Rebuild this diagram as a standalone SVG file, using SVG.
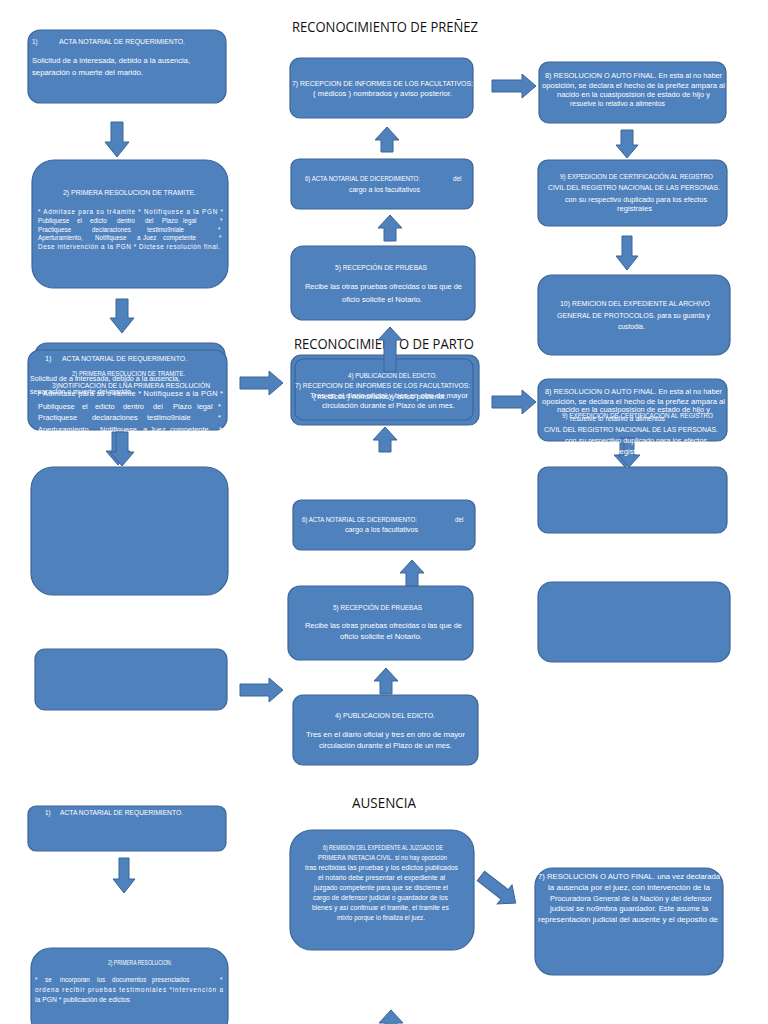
<svg xmlns="http://www.w3.org/2000/svg" width="768" height="1024" viewBox="0 0 768 1024">
<style>
.box{fill:#4F81BD;stroke:#3B6596;stroke-width:1.2}
.arr{fill:#4F81BD;stroke:#3B6596;stroke-width:1}
.t{font-family:"Liberation Sans",Arial,sans-serif;font-size:6.3px;fill:#fff}
.t2{font-family:"Liberation Sans",Arial,sans-serif;font-size:7.4px;fill:#fff}
.ttl{font-family:"Open Sans","Liberation Sans",Arial,sans-serif;font-size:14px;fill:#111}
</style>
<rect width="768" height="1024" fill="#fff"/>

<!-- Titles -->
<text class="ttl" x="292" y="32" textLength="186" lengthAdjust="spacingAndGlyphs">RECONOCIMIENTO DE PREÑEZ</text>
<text class="ttl" x="294" y="349" textLength="180" lengthAdjust="spacingAndGlyphs">RECONOCIMIENTO DE PARTO</text>
<text class="ttl" x="352" y="808" textLength="64" lengthAdjust="spacingAndGlyphs">AUSENCIA</text>

<!-- PREÑEZ -->
<g id="p1">
<rect class="box" x="28" y="30" width="198" height="73" rx="12"/>
<text class="t" x="32" y="44">1)</text>
<text class="t" x="59" y="44" textLength="126" lengthAdjust="spacingAndGlyphs">ACTA NOTARIAL DE REQUERIMIENTO.</text>
<text class="t" x="32" y="63" textLength="158" lengthAdjust="spacingAndGlyphs">Solicitud de a interesada, debido a la ausencia,</text>
<text class="t" x="32" y="75" textLength="111" lengthAdjust="spacingAndGlyphs">separación o muerte del marido.</text>
</g>
<g id="p2">
<rect class="box" x="32" y="160" width="196" height="128" rx="22"/>
<text class="t" x="63" y="194.5" textLength="133" lengthAdjust="spacingAndGlyphs">2) PRIMERA RESOLUCION DE TRAMITE.</text>
<text class="t" x="38" y="214" textLength="185" lengthAdjust="spacing">* Admitase para su tr4amite  * Notifiquese a la PGN  *</text>
<text class="t" y="223"><tspan x="38">Publiquese</tspan><tspan x="77">el</tspan><tspan x="90">edicto</tspan><tspan x="117">dentro</tspan><tspan x="145">del</tspan><tspan x="162">Plazo</tspan><tspan x="183">legal</tspan><tspan x="220">*</tspan></text>
<text class="t" y="231.5"><tspan x="38">Practiquese</tspan><tspan x="92">declaraciones</tspan><tspan x="147">testimo9niale</tspan><tspan x="218">*</tspan></text>
<text class="t" y="240"><tspan x="38">Aperturamiento,</tspan><tspan x="95">Notifiquese</tspan><tspan x="137">a</tspan><tspan x="143">Juez</tspan><tspan x="163">competente</tspan><tspan x="219">*</tspan></text>
<text class="t" x="38" y="249" textLength="182" lengthAdjust="spacing">Dese intervención a la PGN  * Dictese resolución final.</text>
</g>
<g id="p7">
<rect class="box" x="290" y="58" width="183" height="60" rx="10"/>
<text class="t" x="292" y="86" textLength="181" lengthAdjust="spacingAndGlyphs">7) RECEPCION DE INFORMES DE LOS FACULTATIVOS:</text>
<text class="t" x="313" y="95.5" textLength="139" lengthAdjust="spacingAndGlyphs">( médicos )  nombrados y aviso posterior.</text>
</g>
<g id="p6">
<rect class="box" x="291" y="159" width="182" height="50" rx="8"/>
<text class="t" x="305" y="180.5" textLength="115" lengthAdjust="spacingAndGlyphs">6) ACTA NOTARIAL DE DICERDIMIENTO:</text>
<text class="t" x="453" y="180.5">del</text>
<text class="t" x="349" y="191.5" textLength="71" lengthAdjust="spacingAndGlyphs">cargo a los facultativos</text>
</g>
<g id="p5">
<rect class="box" x="291" y="246" width="184" height="74" rx="12"/>
<text class="t" x="335" y="269.5" textLength="92" lengthAdjust="spacingAndGlyphs">5) RECEPCIÓN DE PRUEBAS</text>
<text class="t" x="305" y="289" textLength="157" lengthAdjust="spacingAndGlyphs">Recibe las otras pruebas ofrecidas o las que de</text>
<text class="t" x="342" y="301.5" textLength="80" lengthAdjust="spacingAndGlyphs">oficio solicite el Notario.</text>
</g>
<g id="p8">
<rect class="box" x="539" y="62" width="187" height="61" rx="10"/>
<text class="t" x="545" y="77.5" textLength="177" lengthAdjust="spacingAndGlyphs">8) RESOLUCION O AUTO FINAL.    En esta al no haber</text>
<text class="t" x="542" y="87.5" textLength="183" lengthAdjust="spacingAndGlyphs">oposición, se declara el hecho de la preñez ampara al</text>
<text class="t" x="557" y="96.5" textLength="153" lengthAdjust="spacingAndGlyphs">nacido en la cuasiposision de estado de hijo y</text>
<text class="t" x="570" y="105.5" textLength="95" lengthAdjust="spacingAndGlyphs">resuelve lo relativo a alimentos</text>
</g>
<g id="p9">
<rect class="box" x="538" y="160" width="189" height="66" rx="10"/>
<text class="t" x="560" y="179" textLength="153" lengthAdjust="spacingAndGlyphs">9) EXPEDICION DE CERTIFICACIÓN  AL REGISTRO</text>
<text class="t" x="548" y="190" textLength="172" lengthAdjust="spacingAndGlyphs">CIVIL DEL REGISTRO NACIONAL DE LAS PERSONAS.</text>
<text class="t" x="565" y="201.5" textLength="142" lengthAdjust="spacingAndGlyphs">con su respectivo duplicado para los efectos</text>
<text class="t" x="617" y="210.5" textLength="35" lengthAdjust="spacingAndGlyphs">registrales</text>
</g>
<g id="p10">
<rect class="box" x="538" y="275" width="192" height="80" rx="14"/>
<text class="t" x="560" y="305.5" textLength="150" lengthAdjust="spacingAndGlyphs">10) REMICION DEL EXPEDIENTE AL ARCHIVO</text>
<text class="t" x="557" y="317.5" textLength="153" lengthAdjust="spacingAndGlyphs">GENERAL DE PROTOCOLOS.  para su guarda y</text>
<text class="t" x="618" y="328.5" textLength="27" lengthAdjust="spacingAndGlyphs">custodia.</text>
</g>

<!-- PARTO -->
<g id="q1">
<rect class="box" x="35" y="343" width="190" height="78" rx="12"/>
<rect class="box" x="28" y="350" width="199" height="80" rx="12"/>
<text class="t2" x="45" y="361">1)</text>
<text class="t2" x="62" y="361" textLength="125" lengthAdjust="spacingAndGlyphs">ACTA NOTARIAL DE REQUERIMIENTO.</text>
<text class="t2" x="72" y="375.5" textLength="113" lengthAdjust="spacingAndGlyphs">2) PRIMERA RESOLUCION DE TRAMITE.</text>
<text class="t2" x="30" y="380.5" textLength="150" lengthAdjust="spacingAndGlyphs">Solicitud de a interesada, debido a la ausencia,</text>
<text class="t2" x="52" y="387.5" textLength="158" lengthAdjust="spacingAndGlyphs">3)NOTIFICACION DE LÑA PRIMERA RESOLUCIÓN</text>
<text class="t2" x="30" y="394" textLength="103" lengthAdjust="spacingAndGlyphs">separación o muerte del marido.</text>
<text class="t2" x="38" y="395.5" textLength="185" lengthAdjust="spacing">* Admitase para su tr4amite  * Notifiquese a la PGN  *</text>
<text class="t2" y="408.5"><tspan x="38">Publiquese</tspan><tspan x="82">el</tspan><tspan x="95">edicto</tspan><tspan x="123">dentro</tspan><tspan x="153">del</tspan><tspan x="173">Plazo</tspan><tspan x="197">legal</tspan><tspan x="218">*</tspan></text>
<text class="t2" y="419.5"><tspan x="38">Practiquese</tspan><tspan x="92">declaraciones</tspan><tspan x="147">testimo9niale</tspan><tspan x="218">*</tspan></text>
<text class="t2" y="431.5"><tspan x="38">Aperturamiento,</tspan><tspan x="100">Notifiquese</tspan><tspan x="143">a</tspan><tspan x="150">Juez</tspan><tspan x="170">competente</tspan><tspan x="219">*</tspan></text>
<text class="t2" x="38" y="442" textLength="182" lengthAdjust="spacing">Dese intervención a la PGN  * Dictese resolución final.</text>
</g>
<g id="q2">
<rect class="box" x="31" y="467" width="197" height="128" rx="22"/>
</g>
<g id="q3">
<rect class="box" x="35" y="649" width="192" height="61" rx="10"/>
</g>
<g id="q47">
<rect class="box" x="291" y="355" width="188" height="70" rx="10"/>
<rect class="box" x="295" y="359" width="178" height="61" rx="8"/>
<text class="t2" x="348" y="377.5" textLength="89" lengthAdjust="spacingAndGlyphs">4) PUBLICACION DEL EDICTO.</text>
<text class="t2" x="295" y="388" textLength="175" lengthAdjust="spacingAndGlyphs">7) RECEPCION DE INFORMES DE LOS FACULTATIVOS:</text>
<text class="t2" x="310" y="397.5" textLength="158" lengthAdjust="spacingAndGlyphs">Tres en el diario oficial y tres  en otro de mayor</text>
<text class="t2" x="313" y="399" textLength="134" lengthAdjust="spacingAndGlyphs">( médicos )  nombrados y aviso posterior.</text>
<text class="t2" x="322" y="408" textLength="133" lengthAdjust="spacingAndGlyphs">circulación durante el Plazo de un mes.</text>
</g>
<g id="q6">
<rect class="box" x="293" y="500" width="182" height="50" rx="8"/>
<text class="t" x="302" y="521.5" textLength="115" lengthAdjust="spacingAndGlyphs">6) ACTA NOTARIAL DE DICERDIMIENTO:</text>
<text class="t" x="455" y="521.5">del</text>
<text class="t" x="345" y="531.5" textLength="73" lengthAdjust="spacingAndGlyphs">cargo a los facultativos</text>
</g>
<g id="q5">
<rect class="box" x="288" y="586" width="185" height="74" rx="12"/>
<text class="t" x="333" y="610" textLength="89" lengthAdjust="spacingAndGlyphs">5) RECEPCIÓN DE PRUEBAS</text>
<text class="t" x="305" y="627.5" textLength="157" lengthAdjust="spacingAndGlyphs">Recibe las otras pruebas ofrecidas o las que de</text>
<text class="t" x="340" y="639" textLength="82" lengthAdjust="spacingAndGlyphs">oficio solicite el Notario.</text>
</g>
<g id="q4">
<rect class="box" x="293" y="695" width="185" height="70" rx="10"/>
<text class="t" x="335" y="717.5" textLength="100" lengthAdjust="spacingAndGlyphs">4) PUBLICACION DEL EDICTO.</text>
<text class="t" x="306" y="736.5" textLength="159" lengthAdjust="spacingAndGlyphs">Tres en el diario oficial y tres  en otro de mayor</text>
<text class="t" x="319" y="748" textLength="133" lengthAdjust="spacingAndGlyphs">circulación durante el Plazo de un mes.</text>
</g>
<g id="q89">
<rect class="box" x="538" y="379" width="189" height="62" rx="10"/>
<text class="t" x="545" y="393.5" textLength="177" lengthAdjust="spacingAndGlyphs">8) RESOLUCION O AUTO FINAL.    En esta al no haber</text>
<text class="t" x="542" y="403.5" textLength="183" lengthAdjust="spacingAndGlyphs">oposición, se declara el hecho de la preñez ampara al</text>
<text class="t" x="557" y="412" textLength="153" lengthAdjust="spacingAndGlyphs">nacido en la cuasiposision de estado de hijo y</text>
<text class="t2" x="562" y="418" textLength="151" lengthAdjust="spacingAndGlyphs">9) EXPEDICION DE CERTIFICACIÓN  AL REGISTRO</text>
<text class="t" x="570" y="421" textLength="95" lengthAdjust="spacingAndGlyphs">resuelve lo relativo a alimentos</text>
<text class="t2" x="544" y="432" textLength="174" lengthAdjust="spacingAndGlyphs">CIVIL DEL REGISTRO NACIONAL DE LAS PERSONAS.</text>
</g>
<g id="q9">
<rect class="box" x="538" y="467" width="189" height="66" rx="10"/>
</g>
<g id="q10">
<rect class="box" x="538" y="582" width="192" height="80" rx="14"/>
</g>

<!-- AUSENCIA -->
<g id="a1">
<rect class="box" x="28" y="806" width="198" height="45" rx="8"/>
<text class="t" x="45" y="815">1)</text>
<text class="t" x="60" y="815" textLength="123" lengthAdjust="spacingAndGlyphs">ACTA NOTARIAL DE REQUERIMIENTO.</text>
</g>
<g id="a2">
<rect class="box" x="31" y="948" width="197" height="90" rx="20"/>
<text class="t" x="108" y="965" textLength="64" lengthAdjust="spacingAndGlyphs">2) PRIMERA RESOLUCION.</text>
<text class="t" y="981.5"><tspan x="35">*</tspan><tspan x="45">se</tspan><tspan x="60">incorporan</tspan><tspan x="97">los</tspan><tspan x="112">documentos</tspan><tspan x="152">presenciados</tspan><tspan x="220">*</tspan></text>
<text class="t" x="35" y="991.5" textLength="188" lengthAdjust="spacing">ordena recibir pruebas testimoniales  *intervención a</text>
<text class="t" x="35" y="1001.5" textLength="95" lengthAdjust="spacingAndGlyphs">la PGN  *  publicación de edictos</text>
</g>
<g id="a6">
<rect class="box" x="290" y="830" width="184" height="120" rx="22"/>
<text class="t" x="323" y="849.5" textLength="120" lengthAdjust="spacingAndGlyphs">6) REMISION DEL EXPEDIENTE AL JUZGADO DE</text>
<text class="t" x="318" y="860" textLength="129" lengthAdjust="spacingAndGlyphs">PRIMERA INSTACIA CIVIL.  si no hay oposición</text>
<text class="t" x="305" y="870" textLength="153" lengthAdjust="spacingAndGlyphs">tras recibidas las pruebas y los edictos publicados</text>
<text class="t" x="318" y="879.5" textLength="127" lengthAdjust="spacingAndGlyphs">el notario debe presentar el expediente al</text>
<text class="t" x="314" y="889.5" textLength="134" lengthAdjust="spacingAndGlyphs">juzgado competente para que se discierne el</text>
<text class="t" x="313" y="899.5" textLength="135" lengthAdjust="spacingAndGlyphs">cargo de defensor judicial o guardador de los</text>
<text class="t" x="312" y="909.5" textLength="137" lengthAdjust="spacingAndGlyphs">bienes y así continuar el tramite, el tramite es</text>
<text class="t" x="337" y="919.5" textLength="88" lengthAdjust="spacingAndGlyphs">mixto porque lo finaliza el juez.</text>
</g>
<g id="a7">
<rect class="box" x="535" y="868" width="188" height="107" rx="18"/>
<text class="t" x="538" y="879" textLength="182" lengthAdjust="spacingAndGlyphs">7) RESOLUCION O AUTO FINAL.    una  vez declarada</text>
<text class="t" x="548" y="890" textLength="162" lengthAdjust="spacingAndGlyphs">la ausencia por el juez, con intervención de la</text>
<text class="t" x="550" y="900.5" textLength="162" lengthAdjust="spacingAndGlyphs">Procuradora General de la Nación y del defensor</text>
<text class="t" x="550" y="911" textLength="158" lengthAdjust="spacingAndGlyphs">judicial se no9mbra guardador. Este asume la</text>
<text class="t" x="538" y="921.5" textLength="180" lengthAdjust="spacingAndGlyphs">representación judicial del ausente  y el deposito de</text>
</g>

<!-- Connectors -->
<g id="connectors">
<path class="arr" d="M111,122H123V142H129L117,157L105,142H111Z"/>
<path class="arr" d="M116,299H128V318H134L122,333L110,318H116Z"/>
<path class="arr" d="M621,130H633V145H638L627,158L616,145H621Z"/>
<path class="arr" d="M622,236H632V256H638L627,270L616,256H622Z"/>
<path class="arr" d="M492,80H522V74L536,86L522,98V92H492Z"/>
<path class="arr" d="M381,152H393V140H399L387,127L375,140H381Z"/>
<path class="arr" d="M384,241H396V228H402L390,215L378,228H384Z"/>
<path class="arr" d="M384,372H396V340H402L390,327L378,340H384Z"/>
<path class="arr" d="M379,452H391V440H397L385,427L373,440H379Z"/>
<path class="arr" d="M492,396H522V390L536,402L522,414V408H492Z"/>
<path class="arr" d="M240,377H269V371L283,383L269,395V389H240Z"/>
<path class="arr" d="M112,432H124V451H130L118,465L106,451H112Z"/>
<path class="arr" d="M116,432H128V452H134L122,466L110,452H116Z"/>
<path class="arr" d="M620,438H630V455H636L625,467L614,455H620Z"/>
<path class="arr" d="M624,438H634V455H640L629,467L618,455H624Z"/>
<path class="arr" d="M406,586H418V573H424L412,560L400,573H406Z"/>
<path class="arr" d="M380,694H392V681H398L386,668L374,681H380Z"/>
<path class="arr" d="M240,684H269V678L283,690L269,702V696H240Z"/>
<path class="arr" d="M119,858H129V879H135L124,893L113,879H119Z"/>
<path class="arr" d="M385,1030H397V1023H403L391,1010L379,1023H385Z"/>
<path class="arr" d="M0,-6H30V-12L44,0L30,12V6H0Z" transform="translate(481,876) rotate(38)"/>
</g>

<!-- white overflow texts below box 8/9 overlap -->
<g id="q89-overflow">
<text class="t2" x="565" y="443" textLength="142" lengthAdjust="spacingAndGlyphs">con su respectivo duplicado para los efectos</text>
<text class="t2" x="617" y="454" textLength="35" lengthAdjust="spacingAndGlyphs">registrales</text>
</g>
</svg>
